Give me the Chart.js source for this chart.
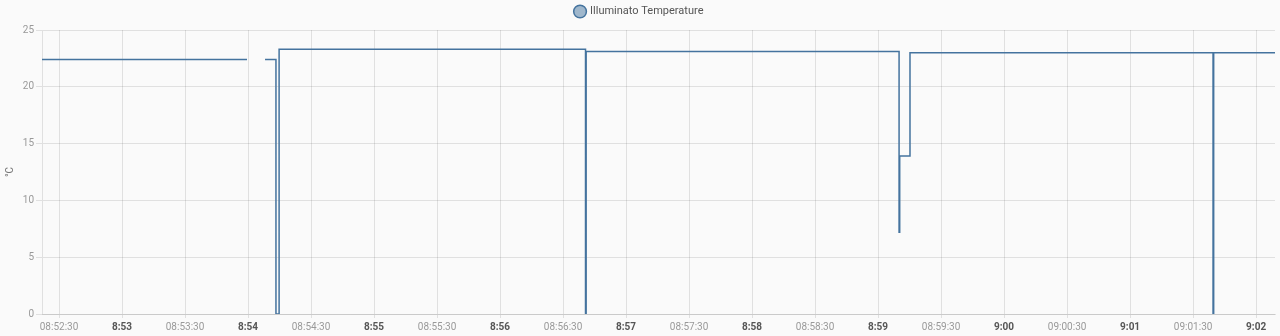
<!DOCTYPE html>
<html>
<head>
<meta charset="utf-8">
<script src="https://cdn.jsdelivr.net/npm/chart.js@4"></script>
<style>
  html, body { margin: 0; padding: 0; background: #fafafa; }
  #wrap { width: 1280px; height: 336px; position: relative; }
</style>
</head>
<body>
<div id="wrap"><canvas id="c"></canvas></div>
<script>
// seconds since 08:52:00
const times = [21.9, 119.5, 119.6, 128.1, 133.3, 134.8, 280.7, 281.0, 430.0, 430.3, 435.2, 579.5, 579.8, 609];
const temps = [22.4, 22.4, null, 22.4, 0, 23.3, 0, 23.1, 7.2, 13.9, 23.0, 0, 23.0, 23.0];
const seriesLabel = 'Illuminato Temperature';
const yTicks = [0, 5, 10, 15, 20, 25];
const yUnit = '°C';
const xMin = 21.9, xMax = 609, xStep = 30;
const baseHour = 8, baseMinute = 52;

const points = times.map((t, i) => ({ x: t, y: temps[i] }));

function fmt(v) {
  const total = baseHour * 3600 + baseMinute * 60 + Math.round(v);
  const h = Math.floor(total / 3600), m = Math.floor((total % 3600) / 60), s = total % 60;
  const p = n => String(n).padStart(2, '0');
  if (s === 0) return h + ':' + p(m);
  return p(h) + ':' + p(m) + ':' + p(s);
}
const isMajorCtx = c => !!(c && c.tick && Math.round(c.tick.value) % 60 === 0);

const legendGap = {
  id: 'legendGap',
  beforeInit(chart) {
    const lg = chart.legend;
    if (!lg) return;
    const fit = lg.fit;
    lg.fit = function () { fit.call(this); this.height += 3; };
  }
};

new Chart(document.getElementById('c'), {
  type: 'line',
  plugins: [legendGap],
  data: {
    datasets: [{
      label: seriesLabel,
      data: points,
      borderColor: '#44739e',
      backgroundColor: 'rgba(68,115,158,0.5)',
      borderWidth: 1.5,
      pointRadius: 0,
      pointHoverRadius: 0,
      stepped: true,
      spanGaps: false,
      fill: false
    }]
  },
  options: {
    responsive: true,
    maintainAspectRatio: false,
    animation: false,
    layout: { padding: { top: 2, right: 5, left: 4, bottom: 0 } },
    plugins: {
      legend: {
        display: true,
        labels: {
          usePointStyle: true,
          pointStyle: 'circle',
          boxWidth: 9, boxHeight: 9,
          padding: 4,
          color: '#555',
          font: { family: 'Roboto', size: 11 }
        }
      },
      tooltip: { enabled: false }
    },
    scales: {
      x: {
        type: 'linear',
        min: xMin, max: xMax,
        afterFit: s => { s.height = 22; },
        grid: { color: 'rgba(0,0,0,0.1)', tickLength: 4 },
        border: { color: 'rgba(0,0,0,0.1)' },
        ticks: {
          stepSize: xStep,
          includeBounds: false,
          autoSkip: false,
          maxRotation: 0,
          padding: 3,
          callback: v => fmt(v),
          color: c => isMajorCtx(c) ? '#555' : '#999',
          font: c => ({ family: 'Roboto', size: 10, weight: isMajorCtx(c) ? 'bold' : 'normal' })
        }
      },
      y: {
        min: 0, max: 25,
        afterFit: s => { s.width = 38; },
        afterBuildTicks: s => { s.ticks = yTicks.map(v => ({ value: v })); },
        grid: { color: 'rgba(0,0,0,0.1)', tickLength: 6 },
        border: { color: 'rgba(0,0,0,0.1)' },
        title: { display: true, text: yUnit, color: '#777', font: { family: 'Roboto', size: 10 }, padding: 0 },
        ticks: { color: '#999', font: { family: 'Roboto', size: 10 }, padding: 2 }
      }
    }
  }
});
</script>
</body>
</html>
